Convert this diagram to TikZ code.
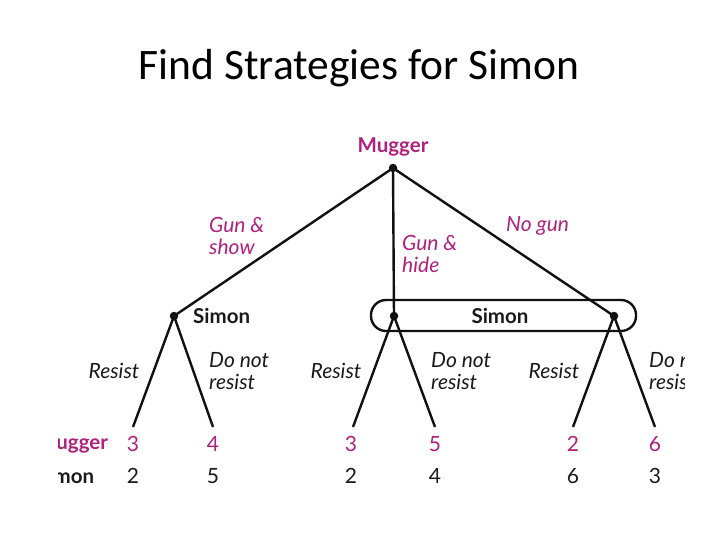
\documentclass[tikz,border=0pt]{standalone}
\usepackage{fontspec}
\setmainfont{Carlito}
\newfontfamily\treefont{Lato}
\usetikzlibrary{positioning}
\definecolor{pinkText}{HTML}{B0207D}
\definecolor{lineCol}{HTML}{111111}
\definecolor{textCol}{HTML}{1A1A1A}
\tikzset{
  player/.style={font=\treefont\fontsize{20.5}{23}\selectfont\bfseries, inner sep=1pt},
  mugname/.style={player, text=pinkText},
  simname/.style={player, text=textCol},
  move/.style={font=\treefont\fontsize{21}{22.5}\selectfont\itshape, align=left, inner sep=1pt},
  mugmove/.style={move, text=pinkText},
  simmove/.style={move, text=textCol},
  pay/.style={font=\treefont\fontsize{21}{23}\selectfont, inner sep=1pt},
  dot/.style={circle, fill=lineCol, inner sep=0pt, minimum size=8.5pt},
  branch/.style={draw=lineCol, line width=2.4pt},
  infoset/.style={rectangle, rounded corners=15pt, draw=lineCol, line width=2.4pt,
    minimum width=265pt, minimum height=31pt, inner sep=0pt},
}

\begin{document}
\begin{tikzpicture}[x=1pt, y=-1pt]

  \useasboundingbox (0,0) rectangle (720,540);

  \node[font=\fontsize{43.5}{50}\selectfont] (title) at (359,68) {Find Strategies for Simon};

  \begin{scope}
    \clip (58,110) rectangle (684,505);

    % Information set
    \node[infoset] (info) at (503.5,315.5) {};
    \node[simname] (simInfo) at (500,316) {Simon};

    % Decision nodes
    \node[dot] (mug) at (393,168) {};
    \node[dot] (simL) at (174,316) {};
    \node[dot] (simM) at (394,316) {};
    \node[dot] (simR) at (614,316) {};
    \node[mugname] (mugName) at (393,147) {Mugger};
    \node[simname, anchor=west] (simLName) at (192,316) {Simon};

    % Terminal points
    \coordinate (l1) at (133,427);
    \coordinate (l2) at (213,427);
    \coordinate (l3) at (353,427);
    \coordinate (l4) at (435,427);
    \coordinate (l5) at (573,427);
    \coordinate (l6) at (655,427);

    \draw[branch] (mug.center) -- (simL.center);
    \draw[branch] (mug.center) -- (simM.center);
    \draw[branch] (mug.center) -- (simR.center);
    \draw[branch] (simL.center) -- (l1);
    \draw[branch] (simL.center) -- (l2);
    \draw[branch] (simM.center) -- (l3);
    \draw[branch] (simM.center) -- (l4);
    \draw[branch] (simR.center) -- (l5);
    \draw[branch] (simR.center) -- (l6);

    % Move labels
    \node[mugmove, anchor=west] (gunShow) at (208,236) {Gun \&\\show};
    \node[mugmove, anchor=west] (gunHide) at (401,254) {Gun \&\\hide};
    \node[mugmove, anchor=west] (noGun) at (505,226) {No gun};
    \node[simmove] (res1) at (114,371) {Resist};
    \node[simmove, anchor=west] (dnr1) at (208,371) {Do not\\resist};
    \node[simmove] (res2) at (336,371) {Resist};
    \node[simmove, anchor=west] (dnr2) at (430,371) {Do not\\resist};
    \node[simmove] (res3) at (554,371) {Resist};
    \node[simmove, anchor=west] (dnr3) at (648,371) {Do not\\resist};

    % Payoffs
    \node[mugname, anchor=west] (rowMug) at (36,444) {Mugger};
    \node[simname, anchor=west] (rowSim) at (36,476) {Simon};
    \node[pay, text=pinkText] (m1) at (133,444) {3};
    \node[pay, text=pinkText] (m2) at (213,444) {4};
    \node[pay, text=pinkText] (m3) at (351,444) {3};
    \node[pay, text=pinkText] (m4) at (435,444) {5};
    \node[pay, text=pinkText] (m5) at (573,444) {2};
    \node[pay, text=pinkText] (m6) at (655,444) {6};
    \node[pay, text=textCol] (s1) at (133,476) {2};
    \node[pay, text=textCol] (s2) at (213,476) {5};
    \node[pay, text=textCol] (s3) at (351,476) {2};
    \node[pay, text=textCol] (s4) at (435,476) {4};
    \node[pay, text=textCol] (s5) at (573,476) {6};
    \node[pay, text=textCol] (s6) at (655,476) {3};
  \end{scope}

\end{tikzpicture}
\end{document}
